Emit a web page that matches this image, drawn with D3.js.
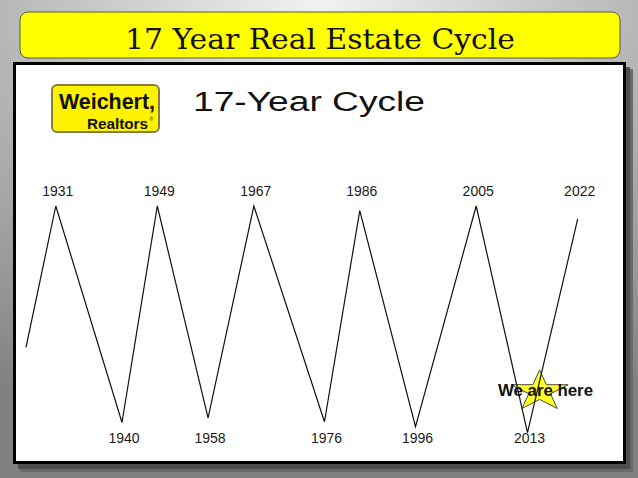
<!DOCTYPE html>
<html><head><meta charset="utf-8">
<script src="https://cdn.jsdelivr.net/npm/d3@7"></script>
<style>html,body{margin:0;padding:0;background:#999;}svg{display:block;}</style>
</head><body>
<script>
// ---- data ----
const pointLabels = ["", "1931", "1940", "1949", "1958", "1967", "1976", "1986", "1996", "2005", "2013", "2022"];
const pointKind   = ["start", "peak", "trough", "peak", "trough", "peak", "trough", "peak", "trough", "peak", "trough", "peak"];
// horizontal position along the drawn cycle (0-100)
const cyclePhase  = [0, 5.4, 17.4, 23.8, 33.0, 41.3, 54.1, 60.5, 70.6, 81.6, 90.9, 100];
// market level (0-100)
const marketLevel = [38.6, 97.5, 7.3, 97.5, 9.2, 97.5, 7.6, 95.6, 5.6, 97.5, 3.1, 92.1];
const herePhase = 93.1, hereLevel = 20.3;
const headerTitle = "17 Year Real Estate Cycle";
const chartTitle = "17-Year Cycle";
const hereText = "We are here";

const W = 638, H = 478;
const svg = d3.select("body").append("svg").attr("width", W).attr("height", H);
const defs = svg.append("defs");
const bg = defs.append("radialGradient").attr("id", "bg").attr("cx", "50%").attr("cy", "0%").attr("r", "95%");
bg.append("stop").attr("offset", "0%").attr("stop-color", "#f2f2f2");
bg.append("stop").attr("offset", "55%").attr("stop-color", "#b4b4b4");
bg.append("stop").attr("offset", "100%").attr("stop-color", "#808080");
svg.append("rect").attr("width", W).attr("height", H).attr("fill", "url(#bg)");

// header bar
svg.append("rect").attr("x", 20).attr("y", 12).attr("width", 600).attr("height", 46).attr("rx", 8)
  .attr("fill", "#ffff00").attr("stroke", "#5a5a3a").attr("stroke-width", 1);
svg.append("text").attr("x", 320).attr("y", 49).attr("text-anchor", "middle")
  .attr("font-family", "'DejaVu Serif', 'Liberation Serif', serif").attr("font-size", 28)
  .attr("textLength", 390).attr("lengthAdjust", "spacingAndGlyphs").attr("fill", "#111")
  .text(headerTitle);

// panel with shadow
svg.append("rect").attr("x", 20).attr("y", 69).attr("width", 613).attr("height", 403).attr("fill", "#6a6a6a");
svg.append("rect").attr("x", 18).attr("y", 67).attr("width", 612).attr("height", 402).attr("fill", "#4e4e4e");
svg.append("rect").attr("x", 14.5).attr("y", 63.5).attr("width", 610).attr("height", 399)
  .attr("fill", "#fff").attr("stroke", "#000").attr("stroke-width", 3);

// logo
const logo = svg.append("g");
logo.append("rect").attr("x", 52).attr("y", 85).attr("width", 107).attr("height", 47).attr("rx", 5)
  .attr("fill", "#fff200").attr("stroke", "#8a7d3c").attr("stroke-width", 2);
logo.append("text").attr("x", 59).attr("y", 109).attr("font-family", "'Liberation Sans', Arial, sans-serif")
  .attr("font-weight", "bold").attr("font-size", 22).attr("textLength", 96).attr("lengthAdjust", "spacingAndGlyphs")
  .attr("fill", "#111").text("Weichert,");
logo.append("text").attr("x", 87).attr("y", 129).attr("font-family", "'Liberation Sans', Arial, sans-serif")
  .attr("font-weight", "bold").attr("font-size", 15).attr("textLength", 61).attr("lengthAdjust", "spacingAndGlyphs")
  .attr("fill", "#111").text("Realtors");
logo.append("text").attr("x", 149.5).attr("y", 121).attr("font-family", "'Liberation Sans', Arial, sans-serif")
  .attr("font-size", 5).attr("fill", "#111").text("®");

// chart title
svg.append("text").attr("x", 193).attr("y", 111).attr("font-family", "'Liberation Sans', Arial, sans-serif")
  .attr("font-size", 27).attr("textLength", 232).attr("lengthAdjust", "spacingAndGlyphs")
  .attr("fill", "#111").text(chartTitle);

// scales
const x = d3.scaleLinear().domain([0, 100]).range([26, 577.7]);
const y = d3.scaleLinear().domain([0, 100]).range([440, 200]);
const pts = cyclePhase.map((p, i) => ({p, v: marketLevel[i], label: pointLabels[i], kind: pointKind[i]}));

// star
const rx = 30, ry = 21.3;
const sx = x(herePhase), sy = y(hereLevel);
const starPts = d3.range(10).map(k => {
  const a = -Math.PI / 2 + k * Math.PI / 5;
  const r = k % 2 === 0 ? 1 : 0.382;
  return [sx + Math.cos(a) * rx * r, sy + Math.sin(a) * ry * r];
});
svg.append("polygon").attr("points", starPts.map(d => d.join(",")).join(" "))
  .attr("fill", "#ffff2a").attr("stroke", "#4a4a3a").attr("stroke-width", 1);

// zigzag line
svg.append("path").datum(pts)
  .attr("d", d3.line().x(d => x(d.p)).y(d => y(d.v)))
  .attr("fill", "none").attr("stroke", "#111").attr("stroke-width", 1.2);

// labels
svg.append("g").selectAll("text").data(pts.filter(d => d.label)).join("text")
  .attr("x", d => x(d.p) + 2)
  .attr("y", d => d.kind === "peak" ? y(100) - 4 : y(0) + 3)
  .attr("text-anchor", "middle")
  .attr("font-family", "'Liberation Sans', Arial, sans-serif").attr("font-size", 14)
  .attr("fill", "#1a1a1a").text(d => d.label);

svg.append("text").attr("x", 545.5).attr("y", 396).attr("text-anchor", "middle")
  .attr("font-family", "'Liberation Sans', Arial, sans-serif").attr("font-weight", "bold").attr("font-size", 16)
  .attr("textLength", 95).attr("lengthAdjust", "spacingAndGlyphs")
  .attr("fill", "#111").text(hereText);
</script>
</body></html>
